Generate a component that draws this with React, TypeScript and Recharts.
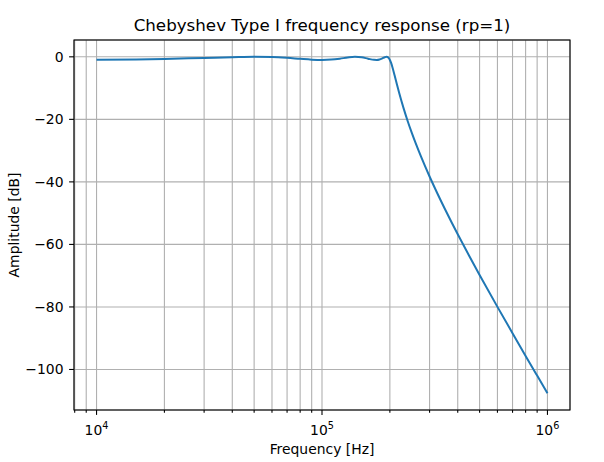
import { LineChart, Line, XAxis, YAxis, CartesianGrid } from 'recharts';

const frequencies = [
  10000, 15000, 20000, 30000, 40000, 50000, 60000, 70000, 80000, 90000,
  100000, 110000, 120000, 130000, 140000, 150000, 160000, 170000, 175000, 180000,
  185000, 190000, 193000, 195000, 197500, 200000, 202500, 205000, 210000, 215000,
  220000, 230000, 240000, 250000, 260000, 275000, 300000, 325000, 350000, 375000,
  400000, 450000, 500000, 600000, 700000, 800000, 900000, 1000000,
];

const amplitudes = [
  -0.92, -0.83, -0.7, -0.35, -0.14, 0.0, -0.07, -0.32, -0.64, -0.9,
  -1.0, -0.89, -0.59, -0.22, 0.0, -0.15, -0.59, -0.97, -0.99, -0.84,
  -0.51, -0.12, 0.0, -0.06, -0.37, -1.0, -1.96, -3.17, -5.98, -8.86,
  -11.58, -16.42, -20.59, -24.25, -27.54, -31.94, -38.27, -43.7, -48.5, -52.82,
  -56.74, -63.71, -69.76, -79.98, -88.42, -95.65, -101.96, -107.58,
];

const majorTicks = [10000, 100000, 1000000];
const xTicks = [
  8000, 9000, 10000, 20000, 30000, 40000, 50000, 60000, 70000, 80000, 90000,
  100000, 200000, 300000, 400000, 500000, 600000, 700000, 800000, 900000, 1000000,
];
const yTicks = [0, -20, -40, -60, -80, -100];

const data = frequencies.map((f, i) => ({ freq: f, amp: amplitudes[i] }));

const W = 604;
const H = 462;
const plot = { left: 74, top: 40, right: 570, bottom: 410 };
const font = 'DejaVu Sans, sans-serif';

const XTick = (props: any) => {
  const { x, y, payload } = props;
  const v = payload.value;
  const major = majorTicks.includes(v);
  return (
    <g>
      <line x1={x} x2={x} y1={y} y2={y + (major ? 4.9 : 2.8)} stroke="#000" strokeWidth={1.1} />
      {major && (
        <text x={x} y={y + 24.5} textAnchor="middle" fontSize={13.9} fontFamily={font} fill="#000">
          <tspan>10</tspan>
          <tspan dy={-5.5} fontSize={9.7}>{Math.round(Math.log10(v))}</tspan>
        </text>
      )}
    </g>
  );
};

const YTick = (props: any) => {
  const { x, y, payload } = props;
  const v = payload.value;
  const label = v < 0 ? '\u2212' + Math.abs(v) : String(v);
  return (
    <g>
      <line x1={x - 4.9} x2={x} y1={y} y2={y} stroke="#000" strokeWidth={1.1} />
      <text x={x - 10.5} y={y} dy="0.36em" textAnchor="end" fontSize={13.9} fontFamily={font} fill="#000">
        {label}
      </text>
    </g>
  );
};

export default function App() {
  const yAxisWidth = 60;
  const xAxisHeight = 40;
  return (
    <div style={{ position: 'absolute', left: 0, top: 0, width: W, height: H, background: '#fff' }}>
      <LineChart
        width={W}
        height={H}
        data={data}
        margin={{
          top: plot.top,
          right: W - plot.right,
          bottom: H - plot.bottom - xAxisHeight,
          left: plot.left - yAxisWidth,
        }}
      >
        <CartesianGrid stroke="#b0b0b0" strokeWidth={1.1} />
        <XAxis
          dataKey="freq"
          type="number"
          scale="log"
          domain={[7943.28, 1258925.4]}
          allowDataOverflow
          ticks={xTicks}
          interval={0}
          height={xAxisHeight}
          axisLine={false}
          tickLine={false}
          tickSize={0}
          tickMargin={0}
          tick={<XTick />}
        />
        <YAxis
          type="number"
          domain={[-112.96, 5.38]}
          allowDataOverflow
          ticks={yTicks}
          interval={0}
          width={yAxisWidth}
          axisLine={false}
          tickLine={false}
          tickSize={0}
          tickMargin={0}
          tick={<YTick />}
        />
        <Line
          type="monotone"
          dataKey="amp"
          stroke="#1f77b4"
          strokeWidth={2}
          dot={false}
          activeDot={false}
          isAnimationActive={false}
        />
      </LineChart>
      <svg
        width={W}
        height={H}
        style={{ position: 'absolute', left: 0, top: 0, pointerEvents: 'none' }}
      >
        <rect
          x={plot.left}
          y={plot.top}
          width={plot.right - plot.left}
          height={plot.bottom - plot.top}
          fill="none"
          stroke="#000"
          strokeWidth={1.1}
        />
        <text x={(plot.left + plot.right) / 2} y={31} textAnchor="middle" fontSize={16.7} fontFamily={font} fill="#000">
          Chebyshev Type I frequency response (rp=1)
        </text>
        <text x={(plot.left + plot.right) / 2} y={454} textAnchor="middle" fontSize={13.9} fontFamily={font} fill="#000">
          Frequency [Hz]
        </text>
        <text
          x={18.5}
          y={(plot.top + plot.bottom) / 2}
          transform={`rotate(-90 18.5 ${(plot.top + plot.bottom) / 2})`}
          textAnchor="middle"
          fontSize={13.9}
          fontFamily={font}
          fill="#000"
        >
          Amplitude [dB]
        </text>
      </svg>
    </div>
  );
}
